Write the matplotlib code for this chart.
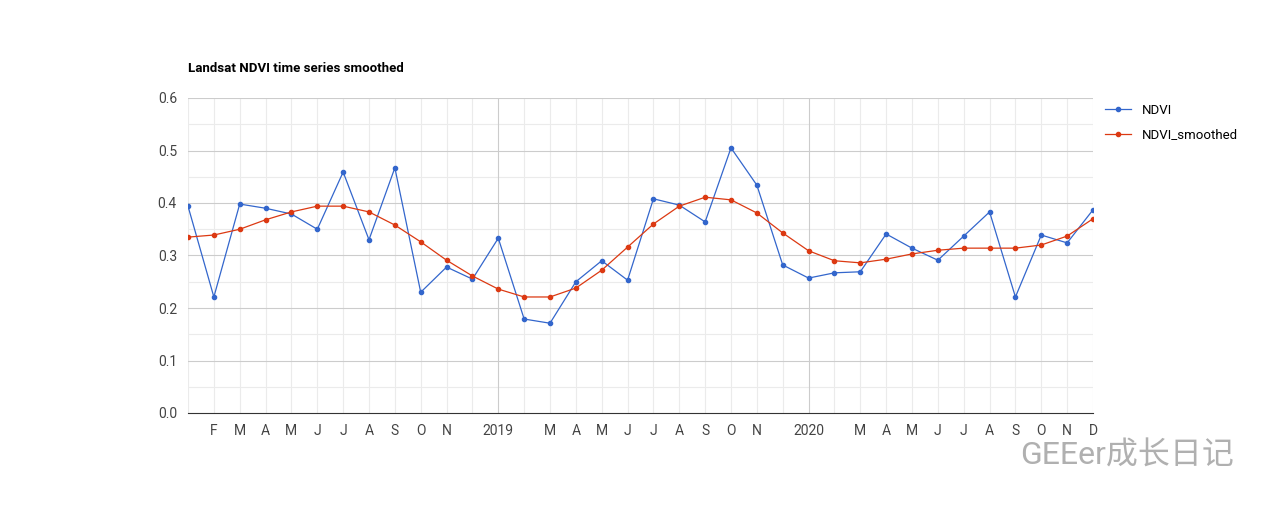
import matplotlib
matplotlib.use('Agg')
import matplotlib.pyplot as plt
import numpy as np

plt.rcParams['font.family'] = ['Roboto', 'Noto Sans CJK SC', 'DejaVu Sans']

months = list(range(36))  # Jan 2018 .. Dec 2020
tick_labels = ['', 'F', 'M', 'A', 'M', 'J', 'J', 'A', 'S', 'O', 'N', '',
               '2019', '', 'M', 'A', 'M', 'J', 'J', 'A', 'S', 'O', 'N', '',
               '2020', '', 'M', 'A', 'M', 'J', 'J', 'A', 'S', 'O', 'N', 'D']

ndvi = [0.394, 0.221, 0.398, 0.390, 0.379, 0.350, 0.459, 0.330, 0.467, 0.230, 0.278, 0.255,
        0.333, 0.179, 0.171, 0.250, 0.290, 0.253, 0.408, 0.396, 0.364, 0.505, 0.434, 0.282,
        0.257, 0.267, 0.269, 0.341, 0.314, 0.291, 0.337, 0.383, 0.221, 0.339, 0.324, 0.387]
ndvi_smoothed = [0.335, 0.339, 0.350, 0.368, 0.383, 0.394, 0.394, 0.383, 0.358, 0.326, 0.291, 0.261,
                 0.236, 0.221, 0.221, 0.238, 0.272, 0.316, 0.360, 0.394, 0.411, 0.406, 0.381, 0.343,
                 0.309, 0.290, 0.286, 0.293, 0.303, 0.310, 0.314, 0.314, 0.314, 0.320, 0.337, 0.370]

fig = plt.figure(figsize=(12.8, 5.12), dpi=100)
ax = fig.add_axes([188/1280, 1-413/512, (1093-188)/1280, (413-98)/512])

# grid
for m in months:
    if m in (12, 24):
        continue
    ax.axvline(m, color='#ebebeb', lw=0.8, zorder=0)
for y in np.arange(0.05, 0.6, 0.1):
    ax.axhline(y, color='#ebebeb', lw=0.8, zorder=0)
for y in np.arange(0.1, 0.61, 0.1):
    ax.axhline(y, color='#cccccc', lw=0.8, zorder=0)
for m in (12, 24):
    ax.axvline(m, color='#cccccc', lw=0.8, zorder=0)

ax.plot(months, ndvi, color='#3366cc', lw=0.9, marker='o', ms=3, label='NDVI')
ax.plot(months, ndvi_smoothed, color='#dc3912', lw=0.9, marker='o', ms=3, label='NDVI_smoothed')

ax.set_xlim(0, 35)
ax.set_ylim(0, 0.6)
ax.set_yticks(np.arange(0, 0.61, 0.1))
ax.set_yticklabels(['%.1f' % v for v in np.arange(0, 0.61, 0.1)], color='#444444', fontsize=10)
ax.set_xticks(months)
ax.set_xticklabels(tick_labels, color='#444444', fontsize=10)
ax.tick_params(length=0, pad=8)
for s in ['top', 'right', 'left']:
    ax.spines[s].set_visible(False)
ax.spines['bottom'].set_color('#333333')

fig.text(188/1280, 1-68/512, 'Landsat NDVI time series smoothed', fontsize=9.5,
         fontweight='bold', va='center')
ax.legend(loc='upper left', bbox_to_anchor=(1.0, 1.02), frameon=False, fontsize=9.5,
          handlelength=2.0, labelspacing=0.9)

fig.text(1020/1280, 1-456/512, 'GEEer成长日记', fontsize=23, color='#b0b0b0', va='center')

fig.savefig('out.png', dpi=100)
